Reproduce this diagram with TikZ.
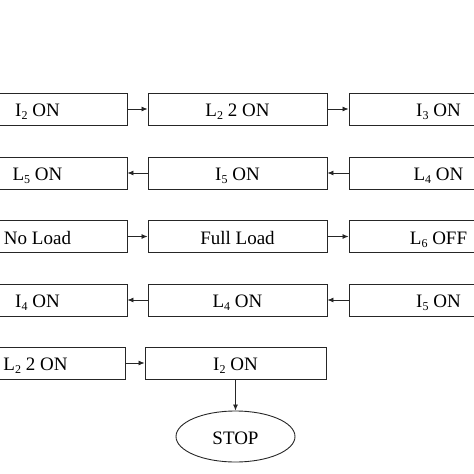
\documentclass[tikz,border=0pt]{standalone}
\usepackage{fontspec}
\setmainfont{Liberation Serif}
\usetikzlibrary{shapes.geometric,arrows.meta}

\newcommand{\lsub}[1]{\raisebox{-0.35ex}{\fontsize{12}{12}\selectfont#1}}

\tikzset{
  stepbox/.style={draw=black!85, line width=0.9pt, minimum width=179pt, minimum height=32pt, inner sep=0pt, text height=17.5pt, text depth=2pt, font=\fontsize{19}{22}\selectfont},
  stopnode/.style={ellipse, draw=black!85, line width=0.9pt, minimum width=119pt, minimum height=51pt, inner sep=0pt, text height=17.5pt, text depth=2pt, font=\fontsize{19}{22}\selectfont},
  link/.style={-{Latex[length=6pt,width=5pt]}, black!85, line width=0.8pt}
}

\begin{document}
\begin{tikzpicture}[x=1pt,y=-1pt]
\useasboundingbox (0,0) rectangle (474,474);
\clip (0,0) rectangle (474,474);
\begin{scope}
% row 1
\node[stepbox] (i2a) at (37.5,109) {I\lsub{2} ON};
\node[stepbox] (l2a) at (237.5,109) {L\lsub{2} 2 ON};
\node[stepbox] (i3) at (438.5,109) {I\lsub{3} ON};
% row 2
\node[stepbox] (l5) at (37.5,173) {L\lsub{5} ON};
\node[stepbox] (i5a) at (237.5,173) {I\lsub{5} ON};
\node[stepbox] (l4a) at (438.5,173) {L\lsub{4} ON};
% row 3
\node[stepbox] (noload) at (37.5,236.5) {No Load};
\node[stepbox] (fullload) at (237.5,236.5) {Full Load};
\node[stepbox] (l6) at (438.5,236.5) {L\lsub{6} OFF};
% row 4
\node[stepbox] (i4) at (37.5,300) {I\lsub{4} ON};
\node[stepbox] (l4b) at (237.5,300) {L\lsub{4} ON};
\node[stepbox] (i5b) at (438.5,300) {I\lsub{5} ON};
% row 5
\node[stepbox] (l2b) at (35.5,363) {L\lsub{2} 2 ON};
\node[stepbox, minimum width=181pt] (i2b) at (235.5,363) {I\lsub{2} ON};
\node[stopnode] (stop) at (235.5,436.5) {STOP};

\draw[link] (i2a) -- (l2a);
\draw[link] (l2a) -- (i3);
\draw[link] (l4a) -- (i5a);
\draw[link] (i5a) -- (l5);
\draw[link] (noload) -- (fullload);
\draw[link] (fullload) -- (l6);
\draw[link] (i5b) -- (l4b);
\draw[link] (l4b) -- (i4);
\draw[link] (l2b) -- (i2b);
\draw[link] (i2b) -- (stop);
\end{scope}
\end{tikzpicture}
\end{document}
